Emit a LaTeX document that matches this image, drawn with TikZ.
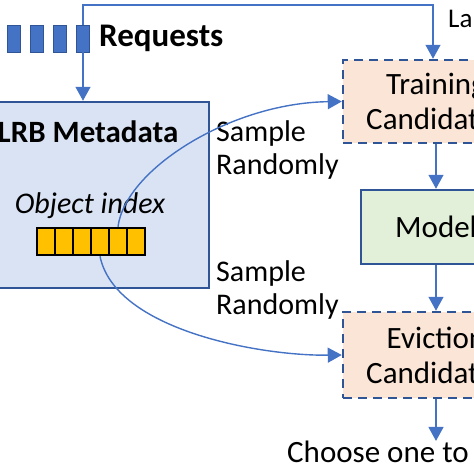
\documentclass[tikz,border=0pt]{standalone}
\usepackage{fontspec}
\setmainfont{Carlito}
\usetikzlibrary{arrows.meta, positioning}

\definecolor{flowblue}{HTML}{4472C4}
\definecolor{edgeblue}{HTML}{2F5597}
\definecolor{metafill}{HTML}{DAE3F3}
\definecolor{candfill}{HTML}{FBE5D6}
\definecolor{modelfill}{HTML}{E2F0D9}
\definecolor{cellfill}{HTML}{FFC000}

\begin{document}
\begin{tikzpicture}[x=1pt, y=-1pt, font=\fontsize{31}{35}\selectfont,
  reqblock/.style={rectangle, draw=edgeblue, fill=flowblue, line width=0.8pt, minimum width=13pt, minimum height=27pt, inner sep=0pt},
  metabox/.style={rectangle, draw=edgeblue, fill=metafill, line width=2.5pt, minimum width=249pt, minimum height=186pt},
  cell/.style={rectangle, draw=black, fill=cellfill, line width=2.5pt, minimum width=18pt, minimum height=27pt, inner sep=0pt},
  candbox/.style={rectangle, draw=edgeblue, fill=candfill, line width=2.5pt, dash pattern=on 9pt off 6pt, text width=186pt, align=center, inner sep=0pt},
  modelbox/.style={rectangle, draw=edgeblue, fill=modelfill, line width=2.5pt, minimum width=150pt, minimum height=74pt},
  label/.style={align=left, inner sep=0pt, font=\fontsize{30}{33}\selectfont},
  arrow/.style={draw=flowblue, line width=1.4pt, -{Triangle[length=14pt, width=15pt]}}
]
\clip (0,0) rectangle (474,474);

% requests
\foreach \x [count=\i] in {14,37,60,83}
  \node[reqblock] (r\i) at (\x,38.5) {};
\node[anchor=west, inner sep=0pt, font=\fontsize{33}{35}\selectfont\bfseries] (requests) at (99,38) {Requests};

% metadata
\node[metabox] (meta) at (84.5,195) {};
\node[font=\fontsize{31}{35}\selectfont\bfseries, inner sep=0pt] (metatitle) at (88,132) {LRB Metadata};
\node[font=\fontsize{30}{35}\selectfont\itshape, inner sep=0pt] (objidx) at (90,206) {Object index};
\foreach \i in {0,...,5}
  \node[cell] (c\i) at (46+18*\i,241.5) {};

% right column
\node[candbox, minimum height=83pt] (train) at (436,101.5) {Training\\Candidates};
\node[modelbox] (model) at (436,227) {Model};
\node[candbox, minimum height=86pt] (evict) at (436,355) {Eviction\\Candidates};
\node[anchor=west, inner sep=0pt] (choose) at (287,452) {Choose one to evict};
\node[anchor=base west, inner sep=0pt, font=\fontsize{27}{30}\selectfont] (labels) at (448,27) {Labels};
\coordinate (loopbend) at (433,5);

\node[label, anchor=north west] (samp1) at (216,120) {Sample\\Randomly};
\node[label, anchor=north west] (samp2) at (216,260) {Sample\\Randomly};

% connectors
\draw[arrow] (r4.south) -- (r4.south |- meta.north);
\draw[arrow] (r4.north) |- (loopbend) -- (loopbend |- train.north);
\draw[arrow] (c4.north) .. controls (125,170) and (230,103) .. (train.west);
\draw[arrow] (c3.south) .. controls (115,330) and (260,356) .. (evict.west);
\draw[arrow] (train.south) -- (model.north);
\draw[arrow] (model.south) -- (evict.north);
\draw[arrow] (evict.south) -- (evict.south |- choose.north);

\end{tikzpicture}
\end{document}
